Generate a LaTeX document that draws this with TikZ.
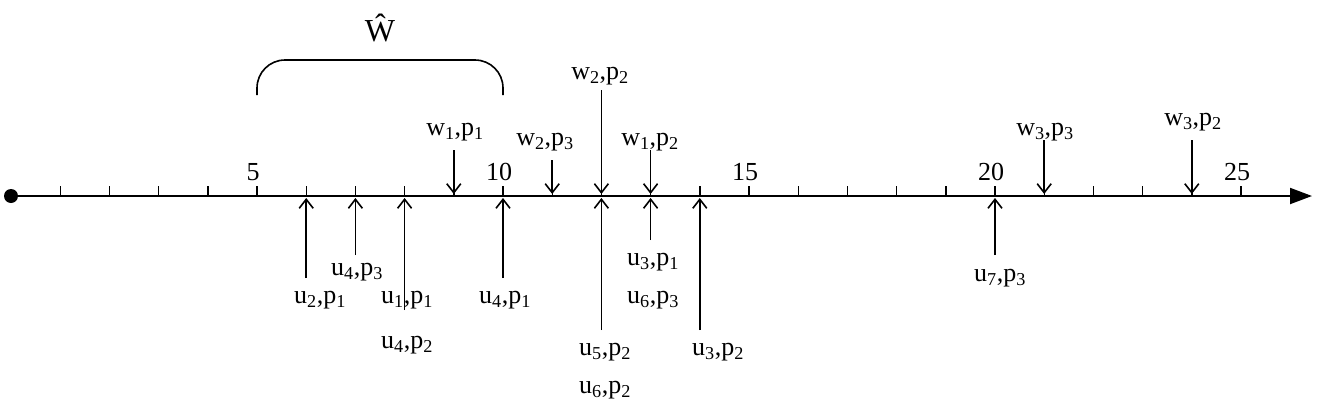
\documentclass[tikz,border=0pt]{standalone}
\usepackage{fontspec}
\setmainfont{Liberation Serif}
\usetikzlibrary{arrows.meta}
\begin{document}
\begin{tikzpicture}[x=1pt,y=-1pt,
  lbl/.style={font=\fontsize{26}{28}\selectfont,inner sep=0pt},
  ar/.style={line width=1.6pt,-{Straight Barb[length=9pt,width=14pt,line width=1.6pt]}}]
\useasboundingbox (0,0) rectangle (1318,407);
\def\U{49.2}
\coordinate (o) at (11,196);
\coordinate (e) at (1312,196);
\fill (o) circle (7);
\draw[line width=2pt,-{Triangle[length=22pt,width=16pt]}] (o) -- (e);
\foreach \i in {1,...,25} \draw[line width=1.4pt] (11+\i*\U,186) -- (11+\i*\U,196);
\foreach \i in {5,10,15,20,25} \node[lbl] at (11+\i*\U-4,172) {\i};
% brace
\draw[line width=1.6pt,rounded corners=28pt] (257,95) -- (257,60) -- (503,60) -- (503,95);
\node[lbl,font=\fontsize{32}{34}\selectfont] (wh) at (380,28) {Ŵ};
% up arrows: value, start y
\foreach \v/\s in {6/278,7/255,8/310,10/278,12/330,13/240,14/330,20/255}
  {\coordinate (b\v) at (11+\v*\U,\s); \coordinate (t\v) at (11+\v*\U,198);
   \draw[ar] (b\v) -- (t\v);}
% down arrows
\foreach \v/\s in {9/150,11/160,12/90,13/150,21/140,24/140}
  {\coordinate (c\v) at (11+\v*\U,\s); \coordinate (d\v) at (11+\v*\U,194);
   \draw[ar] (c\v) -- (d\v);}
\node[lbl] at (320,300) {u\textsubscript{2},p\textsubscript{1}};
\node[lbl] at (357,272) {u\textsubscript{4},p\textsubscript{3}};
\node[lbl] at (407,300) {u\textsubscript{1},p\textsubscript{1}};
\node[lbl] at (407,345) {u\textsubscript{4},p\textsubscript{2}};
\node[lbl] at (505,300) {u\textsubscript{4},p\textsubscript{1}};
\node[lbl] at (605,352) {u\textsubscript{5},p\textsubscript{2}};
\node[lbl] at (605,390) {u\textsubscript{6},p\textsubscript{2}};
\node[lbl] at (653,262) {u\textsubscript{3},p\textsubscript{1}};
\node[lbl] at (653,300) {u\textsubscript{6},p\textsubscript{3}};
\node[lbl] at (718,352) {u\textsubscript{3},p\textsubscript{2}};
\node[lbl] at (1000,278) {u\textsubscript{7},p\textsubscript{3}};
\node[lbl] at (455,132) {w\textsubscript{1},p\textsubscript{1}};
\node[lbl] at (545,142) {w\textsubscript{2},p\textsubscript{3}};
\node[lbl] at (600,76) {w\textsubscript{2},p\textsubscript{2}};
\node[lbl] at (650,142) {w\textsubscript{1},p\textsubscript{2}};
\node[lbl] at (1045,132) {w\textsubscript{3},p\textsubscript{3}};
\node[lbl] at (1193,122) {w\textsubscript{3},p\textsubscript{2}};
\end{tikzpicture}
\end{document}
